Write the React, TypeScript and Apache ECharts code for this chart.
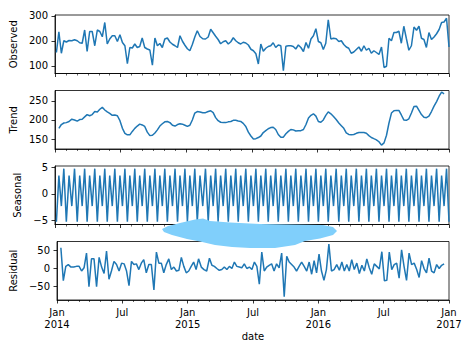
import React, { useEffect, useRef } from "react";
import * as echarts from "echarts";

// weekly observations, first week ending 2014-01-05
const START_UTC = Date.UTC(2014, 0, 5);
const WEEK_MS = 7 * 86400000;

const observed: number[] = [
  153, 236, 150, 200, 195, 201, 200, 204, 200, 192,
  190, 243, 157, 237, 237, 180, 243, 237, 216, 273,
  187, 207, 220, 220, 197, 224, 193, 180, 108, 173,
  171, 187, 173, 177, 211, 173, 167, 163, 102, 211,
  180, 189, 173, 207, 211, 195, 186, 180, 173, 220,
  198, 182, 168, 160, 185, 215, 240, 217, 208, 207,
  215, 246, 232, 218, 205, 188, 196, 200, 187, 196,
  212, 200, 192, 187, 194, 191, 183, 166, 160, 148,
  107, 187, 158, 170, 177, 180, 192, 173, 183, 180,
  80, 178, 180, 180, 177, 167, 183, 173, 157, 193,
  170, 207, 220, 248, 197, 192, 165, 190, 284, 207,
  210, 208, 197, 200, 185, 175, 170, 150, 155, 165,
  175, 158, 180, 162, 170, 150, 160, 153, 145, 175,
  93, 98, 210, 200, 233, 233, 238, 190, 258, 210,
  162, 180, 255, 242, 258, 210, 205, 173, 233, 205,
  215, 228, 245, 273, 275, 290, 175,
];

const trend: (number | null)[] = [
  null, 178, 188, 192, 193, 196, 202, 200, 197, 201,
  202, 208, 214, 211, 214, 222, 221, 228, 233, 226,
  221, 217, 212, 213, 211, 198, 178, 165, 161, 161,
  170, 178, 184, 189, 187, 183, 168, 159, 160, 166,
  174, 184, 190, 195, 196, 193, 186, 184, 188, 190,
  189, 186, 183, 186, 200, 218, 222, 221, 219, 219,
  222, 224, 219, 206, 198, 194, 193, 193, 195, 196,
  199, 199, 197, 196, 191, 183, 168, 158, 150, 151,
  154, 158, 167, 172, 177, 180, 181, 175, 162, 155,
  155, 164, 170, 175, 174, 171, 172, 172, 175, 188,
  205, 212, 216, 210, 196, 194, 200, 212, 221, 216,
  209, 201, 192, 185, 178, 166, 162, 161, 162, 165,
  167, 167, 167, 165, 159, 154, 151, 148, 143, 134,
  140, 160, 192, 218, 224, 225, 225, 213, 200, 199,
  203, 218, 235, 236, 225, 214, 207, 206, 210, 222,
  236, 248, 262, 273, 268, null, null,
];

const seasonal: number[] = [
  -5.25, 3.4, -2.3, 4.7, -5.25, 3.4, -2.3, 4.7, -5.25, 3.4,
  -2.3, 4.7, -5.25, 3.4, -2.3, 4.7, -5.25, 3.4, -2.3, 4.7,
  -5.25, 3.4, -2.3, 4.7, -5.25, 3.4, -2.3, 4.7, -5.25, 3.4,
  -2.3, 4.7, -5.25, 3.4, -2.3, 4.7, -5.25, 3.4, -2.3, 4.7,
  -5.25, 3.4, -2.3, 4.7, -5.25, 3.4, -2.3, 4.7, -5.25, 3.4,
  -2.3, 4.7, -5.25, 3.4, -2.3, 4.7, -5.25, 3.4, -2.3, 4.7,
  -5.25, 3.4, -2.3, 4.7, -5.25, 3.4, -2.3, 4.7, -5.25, 3.4,
  -2.3, 4.7, -5.25, 3.4, -2.3, 4.7, -5.25, 3.4, -2.3, 4.7,
  -5.25, 3.4, -2.3, 4.7, -5.25, 3.4, -2.3, 4.7, -5.25, 3.4,
  -2.3, 4.7, -5.25, 3.4, -2.3, 4.7, -5.25, 3.4, -2.3, 4.7,
  -5.25, 3.4, -2.3, 4.7, -5.25, 3.4, -2.3, 4.7, -5.25, 3.4,
  -2.3, 4.7, -5.25, 3.4, -2.3, 4.7, -5.25, 3.4, -2.3, 4.7,
  -5.25, 3.4, -2.3, 4.7, -5.25, 3.4, -2.3, 4.7, -5.25, 3.4,
  -2.3, 4.7, -5.25, 3.4, -2.3, 4.7, -5.25, 3.4, -2.3, 4.7,
  -5.25, 3.4, -2.3, 4.7, -5.25, 3.4, -2.3, 4.7, -5.25, 3.4,
  -2.3, 4.7, -5.25, 3.4, -2.3, 4.7, -5.25,
];

const residual: (number | null)[] = [
  null, 57, -35, 5, 10, 3, 3, 5, 5, -8,
  1, 42, -52, 26, 26, -52, 30, 3, -15, 48,
  -31, -8, 19, 10, -8, 14, 12, -8, -49, 19,
  10, 12, -4, 14, 24, -13, 10, 10, -61, 45,
  14, 14, -13, 10, 26, -4, 3, -8, -6, 30,
  5, -13, -8, 5, 17, -4, 26, 3, -4, -8,
  28, 8, 5, -1, -6, -4, 3, -4, 5, -1,
  17, 5, 3, 1, 12, -1, 3, -4, 17, 5,
  -45, 45, -8, 3, 8, 12, -8, 12, 1, 42,
  -80, 33, 17, 10, 3, -8, 5, 17, 5, -8,
  17, -17, 21, -13, 39, -8, -34, -4, 67, -8,
  -4, 10, -6, 17, -8, 10, -8, 24, -4, 14,
  -15, 8, -8, 26, 1, -17, 12, 5, -2, 46,
  -35, -34, 45, -4, 10, 14, -28, 51, 5, -34,
  42, 10, 14, -4, -26, 21, -1, -13, 28, -8,
  -13, 10, -1, 8, 12, null, null,
];

const panelNames = ["Observed", "Trend", "Seasonal", "Residual"];
const panelSeries = [observed, trend, seasonal, residual];
const yTicks = [
  [100, 200, 300],
  [150, 200, 250],
  [-5, 0, 5],
  [-50, 0, 50],
];
const yRanges = [
  [69, 303],
  [124, 277],
  [-5.75, 5.2],
  [-89, 74.5],
];
const monthNames = ["Jan", "Feb", "Mar", "Apr", "May", "Jun", "Jul", "Aug", "Sep", "Oct", "Nov", "Dec"];
const xLabelYears = [2014, 2015, 2016, 2017];

// layout (px)
const gridTops = [15, 90.5, 166, 241.5];
const gridHeight = 58.5;
const gridLeft = 55;
const gridWidth = 394;
const nameGaps = [31.5, 32, 27, 33];

// date -> months since Jan 2014
function monthPos(i: number): number {
  const d = new Date(START_UTC + i * WEEK_MS);
  const y = d.getUTCFullYear();
  const m = d.getUTCMonth();
  const day = d.getUTCDate();
  const dim = new Date(Date.UTC(y, m + 1, 0)).getUTCDate();
  return (y - 2014) * 12 + m + (day - 1) / dim;
}

const FONT = "DejaVu Sans";
const LINE_COLOR = "#1f77b4";

export default function App() {
  const ref = useRef<HTMLDivElement>(null);

  useEffect(() => {
    if (!ref.current) return;
    const chart = echarts.init(ref.current, undefined, { renderer: "svg" });

    const grids = gridTops.map((top) => ({
      left: gridLeft,
      top,
      width: gridWidth,
      height: gridHeight,
      show: true,
      borderColor: "#000",
      borderWidth: 0.8,
      backgroundColor: "transparent",
    }));

    const xAxes = gridTops.map((_, i) => ({
      type: "value",
      gridIndex: i,
      min: 0,
      max: 36,
      interval: 6,
      axisLine: { show: true, onZero: false, lineStyle: { color: "#000", width: 0.8 } },
      axisTick: { show: true, inside: false, length: 3.5, lineStyle: { color: "#000", width: 0.8 } },
      minorTick: { show: true, splitNumber: 6, length: 2, lineStyle: { color: "#000", width: 0.6 } },
      splitLine: { show: false },
      minorSplitLine: { show: false },
      axisLabel: {
        show: i === 3,
        showMinLabel: true,
        showMaxLabel: true,
        margin: 6,
        fontSize: 10,
        lineHeight: 12,
        fontFamily: FONT,
        color: "#000",
        formatter: (v: number) => {
          const k = Math.round(v);
          const m = k % 12;
          if (m === 0) return monthNames[0] + "\n" + xLabelYears[k / 12];
          return monthNames[m];
        },
      },
      name: i === 3 ? "date" : "",
      nameLocation: "middle",
      nameGap: 31,
      nameTextStyle: { fontSize: 10, fontFamily: FONT, color: "#000" },
    }));

    const yAxes = gridTops.map((_, i) => ({
      type: "value",
      gridIndex: i,
      min: yRanges[i][0],
      max: yRanges[i][1],
      axisLine: { show: true, onZero: false, lineStyle: { color: "#000", width: 0.8 } },
      axisTick: {
        show: true,
        inside: false,
        length: 3.5,
        customValues: yTicks[i],
        lineStyle: { color: "#000", width: 0.8 },
      },
      axisLabel: {
        show: true,
        customValues: yTicks[i],
        margin: 7,
        fontSize: 10,
        fontFamily: FONT,
        color: "#000",
        formatter: (v: number) => String(v).replace("-", "\u2212"),
      },
      splitLine: { show: false },
      name: panelNames[i],
      nameLocation: "middle",
      nameRotate: 90,
      nameGap: nameGaps[i],
      nameTextStyle: { fontSize: 10, fontFamily: FONT, color: "#000" },
    }));

    const series = panelSeries.map((arr, i) => ({
      type: "line",
      xAxisIndex: i,
      yAxisIndex: i,
      showSymbol: false,
      symbol: "none",
      connectNulls: false,
      lineStyle: { color: LINE_COLOR, width: 1.5 },
      itemStyle: { color: LINE_COLOR },
      data: arr
        .map((v, k) => (v === null ? null : [monthPos(k), v]))
        .filter((p) => p !== null),
    }));

    chart.setOption({
      animation: false,
      backgroundColor: "#fff",
      grid: grids,
      xAxis: xAxes,
      yAxis: yAxes,
      series,
      graphic: [
        {
          type: "polygon",
          z: 100,
          shape: {
            points: [
              [162, 229], [168, 226], [180, 223], [195, 219.5], [203, 218.5],
              [210, 221], [230, 222.5], [260, 224], [290, 224.5], [323, 225],
              [333, 227], [337, 231], [333, 235], [320, 238.5], [305, 241],
              [295, 245], [275, 248], [250, 248], [232, 247], [215, 245],
              [200, 241.5], [187, 239], [172, 235], [164, 232],
            ],
          },
          style: { fill: "#80cffb" },
        },
      ],
    });

    return () => chart.dispose();
  }, []);

  return (
    <div
      ref={ref}
      style={{ position: "fixed", left: 0, top: 0, width: 474, height: 355, background: "#fff" }}
    />
  );
}
